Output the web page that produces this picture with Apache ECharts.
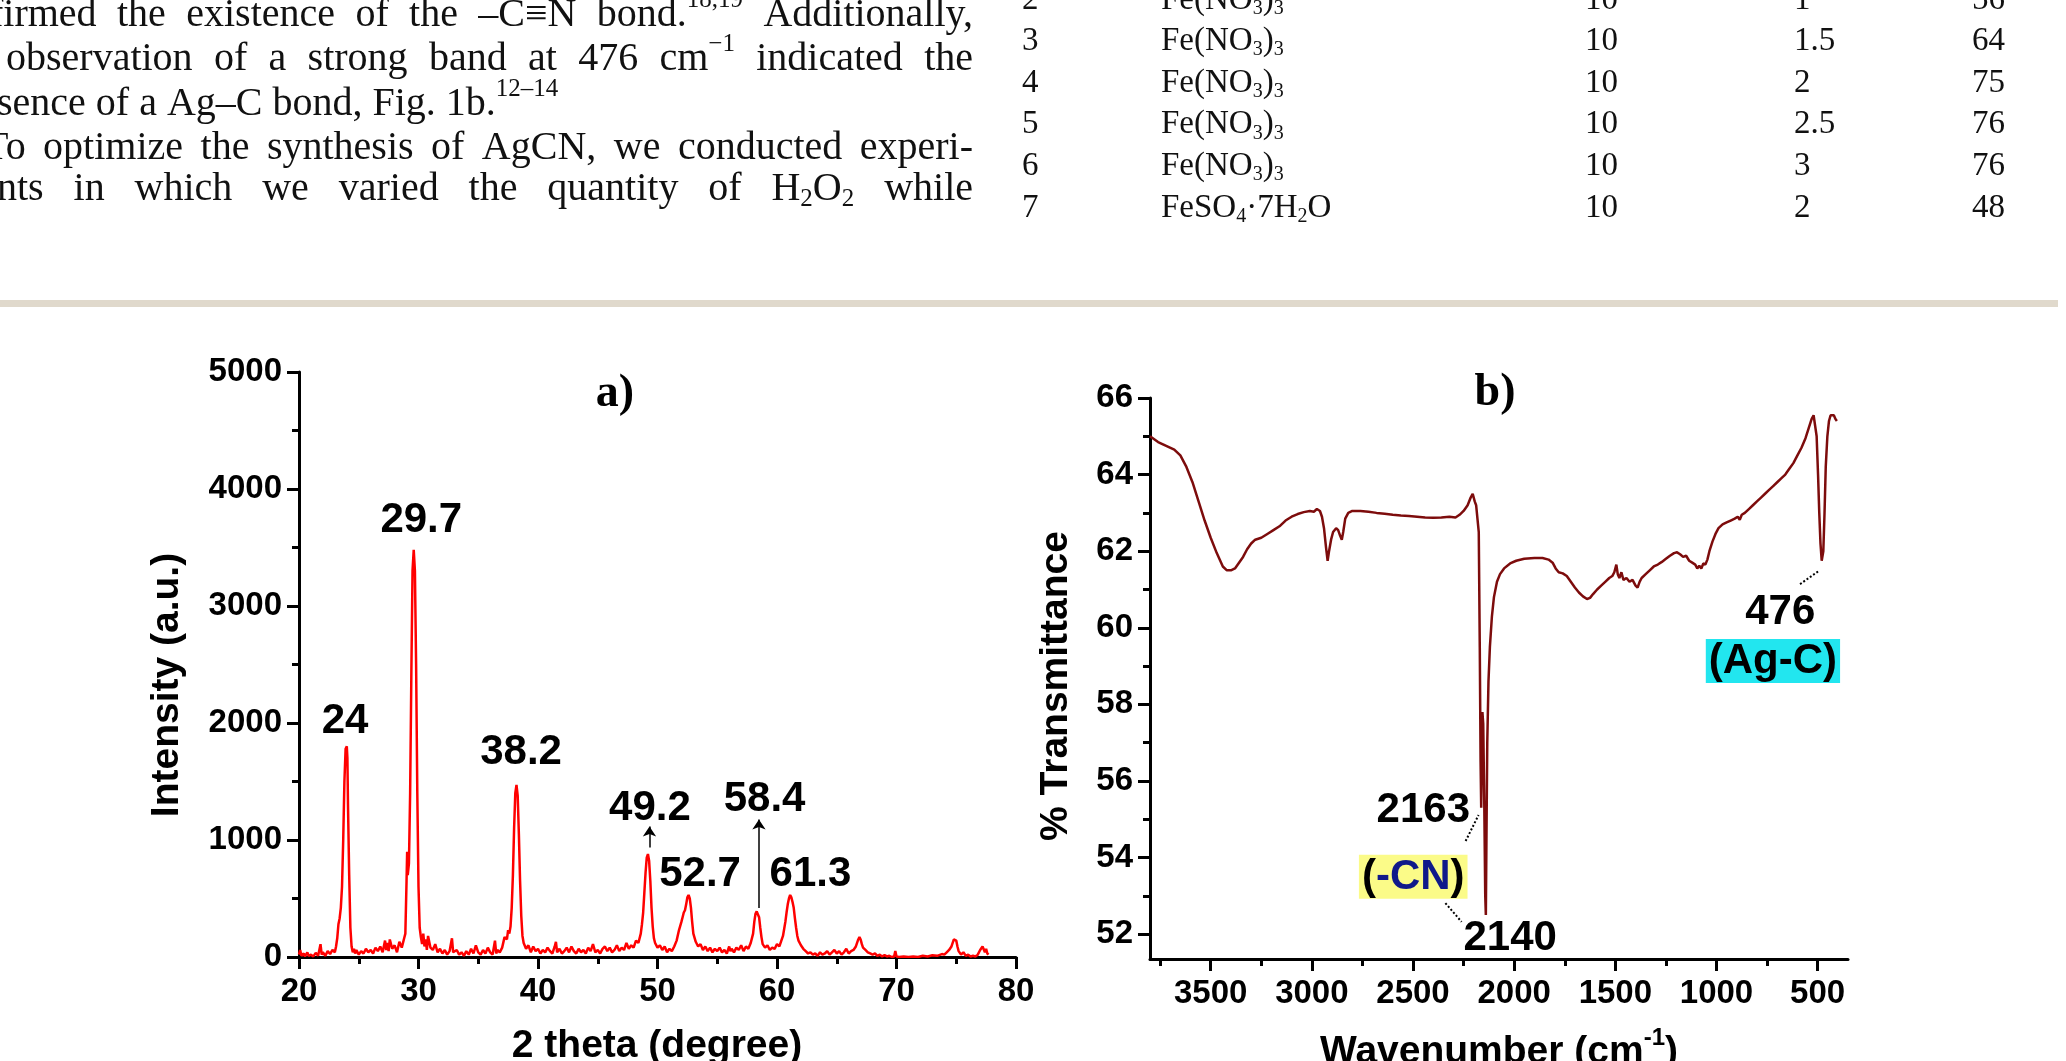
<!DOCTYPE html>
<html><head><meta charset="utf-8">
<script src="https://cdn.jsdelivr.net/npm/echarts@6/dist/echarts.min.js"></script>
<style>html,body{margin:0;padding:0;background:#fff;overflow:hidden}#c{width:2066px;height:1061px}</style>
</head><body><div id="c"></div>
<script>
// ---------- DATA ----------
const xrdPoints = [
[20.0,20],[20.1,60],[20.2,10],[20.3,0],[20.4,30],[20.5,5],[20.6,15],[20.7,40],[20.8,10],[20.9,0],[21.0,20],[21.2,5],[21.4,35],[21.6,10],[21.8,110],[21.9,20],[22.0,40],[22.2,10],[22.4,50],[22.6,25],[22.8,60],[23.0,40],[23.1,90],[23.2,160],[23.3,280],[23.4,330],[23.5,420],[23.6,600],[23.7,1000],[23.8,1500],[23.9,1780],[24.0,1800],[24.05,1700],[24.1,1300],[24.2,700],[24.3,250],[24.4,90],[24.5,40],[24.6,70],[24.7,30],[24.8,60],[25.0,20],[25.2,50],[25.4,30],[25.6,70],[25.8,40],[26.0,60],[26.2,30],[26.4,80],[26.6,50],[26.8,90],[27.0,40],[27.2,140],[27.3,60],[27.4,120],[27.5,50],[27.6,150],[27.8,70],[28.0,100],[28.2,40],[28.4,130],[28.6,80],[28.8,160],[28.9,200],[29.0,650],[29.05,900],[29.1,700],[29.2,800],[29.3,1400],[29.4,2400],[29.5,3300],[29.6,3480],[29.7,3300],[29.8,2500],[29.9,1400],[30.0,600],[30.1,250],[30.2,170],[30.3,110],[30.4,200],[30.5,90],[30.6,150],[30.7,60],[30.8,180],[31.0,80],[31.2,60],[31.4,110],[31.6,40],[31.8,70],[32.0,30],[32.2,60],[32.4,20],[32.6,50],[32.8,160],[32.9,40],[33.0,30],[33.2,60],[33.4,20],[33.6,40],[33.8,10],[34.0,50],[34.2,20],[34.4,70],[34.6,30],[34.8,100],[35.0,40],[35.2,20],[35.4,60],[35.6,30],[35.8,80],[36.0,40],[36.2,20],[36.4,140],[36.5,30],[36.6,60],[36.8,40],[37.0,80],[37.2,170],[37.4,150],[37.5,230],[37.6,200],[37.7,260],[37.8,420],[37.9,700],[38.0,1100],[38.1,1400],[38.2,1470],[38.3,1380],[38.4,1050],[38.5,650],[38.6,350],[38.7,180],[38.8,120],[39.0,70],[39.2,100],[39.4,40],[39.6,90],[39.8,50],[40.0,70],[40.2,30],[40.4,60],[40.6,40],[40.8,80],[41.0,50],[41.2,30],[41.4,90],[41.5,130],[41.6,40],[41.8,70],[42.0,30],[42.2,50],[42.4,80],[42.6,40],[42.8,90],[43.0,50],[43.2,30],[43.4,70],[43.6,40],[43.8,60],[44.0,30],[44.2,80],[44.4,50],[44.6,110],[44.8,40],[45.0,60],[45.2,30],[45.4,70],[45.6,90],[45.8,50],[46.0,80],[46.2,40],[46.4,60],[46.6,100],[46.8,50],[47.0,80],[47.2,60],[47.4,120],[47.6,70],[47.8,100],[48.0,80],[48.2,140],[48.4,120],[48.6,200],[48.7,280],[48.8,380],[48.9,550],[49.0,720],[49.1,850],[49.2,880],[49.3,820],[49.4,650],[49.5,420],[49.6,260],[49.7,160],[49.8,120],[50.0,80],[50.2,100],[50.4,60],[50.6,90],[50.8,40],[51.0,70],[51.2,50],[51.4,90],[51.6,140],[51.8,230],[52.0,300],[52.1,340],[52.2,380],[52.3,400],[52.4,450],[52.5,510],[52.6,530],[52.7,500],[52.8,420],[52.9,300],[53.0,200],[53.2,130],[53.4,90],[53.6,110],[53.8,60],[54.0,90],[54.2,50],[54.4,80],[54.6,40],[54.8,70],[55.0,50],[55.2,80],[55.4,40],[55.6,60],[55.8,30],[56.0,90],[56.1,50],[56.2,70],[56.4,40],[56.6,80],[56.8,60],[57.0,100],[57.2,50],[57.4,90],[57.6,70],[57.8,120],[58.0,200],[58.1,300],[58.2,370],[58.3,390],[58.4,380],[58.5,340],[58.6,250],[58.7,170],[58.8,110],[59.0,80],[59.2,100],[59.4,60],[59.6,80],[59.8,70],[60.0,110],[60.2,90],[60.4,150],[60.5,180],[60.6,240],[60.7,300],[60.8,380],[60.9,450],[61.0,500],[61.1,530],[61.2,510],[61.3,470],[61.4,420],[61.5,330],[61.6,250],[61.7,180],[61.8,140],[62.0,100],[62.2,70],[62.4,50],[62.6,30],[62.8,40],[63.0,20],[63.2,30],[63.4,10],[63.6,40],[63.8,20],[64.0,30],[64.2,50],[64.4,20],[64.6,40],[64.8,60],[65.0,30],[65.2,50],[65.4,20],[65.6,40],[65.8,70],[66.0,30],[66.2,50],[66.4,60],[66.6,90],[66.8,150],[66.9,170],[67.0,150],[67.1,110],[67.2,80],[67.4,60],[67.6,40],[67.8,30],[68.0,20],[68.2,30],[68.4,10],[68.6,20],[68.8,5],[69.0,15],[69.2,5],[69.4,10],[69.6,0],[69.8,5],[69.9,50],[70.0,5],[70.2,0],[70.6,5],[71.0,0],[71.4,5],[71.8,0],[72.2,10],[72.6,5],[73.0,15],[73.4,10],[73.8,25],[74.0,20],[74.2,40],[74.4,60],[74.6,90],[74.8,150],[74.9,160],[75.0,140],[75.1,90],[75.2,50],[75.4,20],[75.6,40],[75.8,10],[76.0,20],[76.2,5],[76.4,10],[76.6,5],[76.8,20],[77.0,60],[77.2,90],[77.3,80],[77.4,40],[77.5,70],[77.6,30],[77.7,20]
];
const ftirPoints = [
[3800,65.0],[3760,64.85],[3720,64.75],[3680,64.65],[3650,64.5],[3620,64.2],[3590,63.8],[3560,63.3],[3530,62.8],[3500,62.35],[3470,61.95],[3440,61.6],[3420,61.5],[3400,61.5],[3380,61.55],[3360,61.7],[3340,61.85],[3320,62.05],[3300,62.2],[3280,62.3],[3250,62.35],[3220,62.45],[3190,62.55],[3160,62.65],[3130,62.8],[3100,62.9],[3070,62.97],[3040,63.02],[3010,63.05],[2990,63.03],[2975,63.1],[2960,63.05],[2950,62.9],[2940,62.6],[2930,62.1],[2922,61.75],[2915,62.0],[2905,62.3],[2895,62.5],[2880,62.6],[2870,62.55],[2860,62.4],[2852,62.3],[2845,62.5],[2835,62.85],[2820,63.0],[2800,63.05],[2760,63.05],[2720,63.03],[2680,63.0],[2640,62.98],[2600,62.95],[2560,62.93],[2520,62.92],[2480,62.9],[2440,62.88],[2400,62.87],[2360,62.88],[2320,62.9],[2290,62.88],[2270,62.95],[2250,63.05],[2230,63.2],[2215,63.4],[2205,63.5],[2195,63.3],[2188,63.2],[2180,63.15],[2175,62.5],[2170,59.5],[2166,56.5],[2163,55.3],[2160,56.5],[2157,57.8],[2153,57.5],[2148,55.5],[2143,53.0],[2140,52.5],[2137,54.5],[2133,57.0],[2127,58.6],[2120,59.5],[2110,60.3],[2100,60.8],[2085,61.2],[2070,61.4],[2050,61.55],[2020,61.68],[1990,61.75],[1950,61.8],[1900,61.82],[1860,61.82],[1830,61.78],[1810,61.7],[1795,61.55],[1780,61.45],[1760,61.42],[1740,61.35],[1720,61.2],[1700,61.05],[1680,60.92],[1660,60.82],[1640,60.75],[1625,60.78],[1610,60.88],[1590,61.0],[1570,61.1],[1550,61.2],[1530,61.3],[1515,61.35],[1505,61.45],[1495,61.65],[1488,61.4],[1480,61.3],[1470,61.45],[1460,61.25],[1445,61.3],[1430,61.2],[1415,61.25],[1400,61.1],[1390,61.05],[1380,61.2],[1370,61.3],[1350,61.4],[1330,61.5],[1310,61.6],[1290,61.65],[1270,61.72],[1250,61.8],[1230,61.88],[1210,61.95],[1195,61.97],[1180,61.92],[1165,61.85],[1150,61.88],[1135,61.75],[1120,61.7],[1105,61.65],[1095,61.55],[1085,61.62],[1075,61.55],[1065,61.68],[1055,61.65],[1045,61.78],[1035,62.0],[1020,62.25],[1005,62.45],[990,62.6],[970,62.7],[950,62.75],[930,62.8],[910,62.85],[895,62.9],[885,62.82],[875,62.95],[860,63.0],[840,63.1],[820,63.2],[800,63.3],[780,63.4],[760,63.5],[740,63.6],[720,63.7],[700,63.8],[680,63.9],[660,64.0],[640,64.15],[620,64.3],[600,64.5],[580,64.7],[560,64.95],[545,65.2],[530,65.45],[520,65.55],[512,65.5],[505,65.0],[498,64.0],[492,63.0],[486,62.2],[480,61.75],[476,61.7],[472,62.0],[466,63.0],[460,64.2],[452,65.0],[444,65.4],[436,65.55],[428,65.5],[420,65.55],[412,65.45],[405,65.4]
];
const ftirXMajor = [500,1000,1500,2000,2500,3000,3500];
const ftirXMinor = [750,1250,1750,2250,2750,3250,3750];
const ftirYMajor = [52,54,56,58,60,62,64,66];
const ftirYMinor = [53,55,57,59,61,63,65];
// peak labels: text, x, y (data coords of label centre)
const xrdPeakLabels = [['24',23.85,2012],['29.7',30.23,3735],['38.2',38.58,1752],['49.2',49.37,1274],['52.7',53.56,709],['58.4',58.96,1350],['61.3',62.80,709]];
// arrows: x, from, to
const xrdArrows = [[49.33,936,1115],[58.49,419,1175]];
const ftirLabels = [['476',685,60.39],['2163',2449,55.22],['2140',2020,51.90]];
const ftirBoxLabels = [['(Ag-C)',721,59.13],['(-CN)',2499,53.50]];
const ftirLeaders = [[[587,61.14],[490,61.5]],[[2240,54.43],[2176,55.11]],[[2340,52.81],[2260,52.32]]];
const bodyLines = [
  'firmed the existence of the –C≡N bond.^{18,19} Additionally,',
  'observation of a strong band at 476 cm^{−1} indicated the',
  'sence of a Ag–C bond, Fig. 1b.^{12–14}',
  'To optimize the synthesis of AgCN, we conducted experi-',
  'nts in which we varied the quantity of H_{2}O_{2} while'
];
const tableEntry = ['2','3','4','5','6','7'];
const tableCatalyst = ['Fe(NO_{3})_{3}','Fe(NO_{3})_{3}','Fe(NO_{3})_{3}','Fe(NO_{3})_{3}','Fe(NO_{3})_{3}','FeSO_{4}·7H_{2}O'];
const tableLoading = ['10','10','10','10','10','10'];
const tableH2O2 = ['1','1.5','2','2.5','3','2'];
const tableYield = ['56','64','75','76','76','48'];

// ---------- LAYOUT HELPERS ----------
const mctx = document.createElement('canvas').getContext('2d');
function parseMarkup(s){const out=[];const re=/\^\{([^}]*)\}|_\{([^}]*)\}|([^\^_]+)/g;let m;while((m=re.exec(s))){if(m[1]!==undefined)out.push({t:m[1],k:'sup'});else if(m[2]!==undefined)out.push({t:m[2],k:'sub'});else out.push({t:m[3],k:'n'});}return out;}
function fsOf(st,k){return k==='n'?st.size:Math.round(st.size*0.62);}
function fontOf(st,k){return (st.weight||'normal')+' '+fsOf(st,k)+'px '+st.family;}
function segW(s,st){mctx.font=fontOf(st,s.k);return mctx.measureText(s.t).width;}
function emitSeg(s,x,y,st,els){
  const dy=s.k==='sup'?-st.size*0.36:(s.k==='sub'?st.size*0.26:0);
  els.push({type:'text',x:x,y:y+dy,silent:true,z:100,style:{text:s.t,fontSize:fsOf(st,s.k),fontFamily:st.family,fontWeight:st.weight||'normal',fill:st.color||'#000',align:'left',verticalAlign:'middle'}});
}
function wordsLine(str,left,right,yc,st,justify,els){
  const words=str.split(' ').filter(w=>w.length);
  const segs=words.map(parseMarkup);
  const ws=segs.map(ss=>ss.reduce((a,s)=>a+segW(s,st),0));
  const tot=ws.reduce((a,b)=>a+b,0);
  mctx.font=fontOf(st,'n');const sp=mctx.measureText(' ').width;
  const gap=(justify&&words.length>1)?(right-left-tot)/(words.length-1):sp;
  let x=left;
  segs.forEach((ss,i)=>{let xx=x;ss.forEach(s=>{emitSeg(s,xx,yc,st,els);xx+=segW(s,st);});x+=ws[i]+gap;});
}
function centeredLine(str,cx,yc,st,els){
  const segs=parseMarkup(str);const w=segs.reduce((a,s)=>a+segW(s,st),0);
  let x=cx-w/2;segs.forEach(s=>{emitSeg(s,x,yc,st,els);x+=segW(s,st);});
}

const els=[];
const serif="'Liberation Serif','Times New Roman',serif";
const sans="'Liberation Sans',Arial,sans-serif";
const bodySt={size:40,family:serif,color:'#111'};
const lineLeft=[-10,6,-3,-16,-3];
const lineY=[15,59,104,148,189];
const lineJust=[true,true,false,true,true];
bodyLines.forEach((l,i)=>wordsLine(l,lineLeft[i],973,lineY[i],bodySt,lineJust[i],els));
const tabSt={size:33,family:serif,color:'#111'};
const rowY=[0,41.6,83.2,124.8,166.4,208];
const colX=[1022,1161,1585,1794,1972];
[tableEntry,tableCatalyst,tableLoading,tableH2O2,tableYield].forEach((col,ci)=>{
  col.forEach((v,ri)=>wordsLine(v,colX[ci],colX[ci]+400,rowY[ri],tabSt,false,els));
});
els.push({type:'rect',silent:true,shape:{x:0,y:300,width:2058,height:7},style:{fill:'#e0d9cc'}});
const titleSt={size:39,family:sans,weight:'bold',color:'#000'};
centeredLine('2 theta (degree)',657,1046,titleSt,els);
centeredLine('Wavenumber (cm^{-1})',1499,1052,titleSt,els);
els.push({type:'text',x:167,y:685,rotation:Math.PI/2,silent:true,style:{text:'Intensity (a.u.)',fontSize:39,fontWeight:'bold',fontFamily:sans,fill:'#000',align:'center',verticalAlign:'middle'}});
els.push({type:'text',x:1056,y:686,rotation:Math.PI/2,silent:true,style:{text:'% Transmittance',fontSize:39,fontWeight:'bold',fontFamily:sans,fill:'#000',align:'center',verticalAlign:'middle'}});
els.push({type:'text',x:615,y:394,silent:true,style:{text:'a)',fontSize:46,fontWeight:'bold',fontFamily:serif,fill:'#000',align:'center',verticalAlign:'middle'}});
els.push({type:'text',x:1495,y:393,silent:true,style:{text:'b)',fontSize:46,fontWeight:'bold',fontFamily:serif,fill:'#000',align:'center',verticalAlign:'middle'}});

// ---------- CHART ----------
const plain=v=>String(v);
const tickLab={color:'#000',fontSize:33,fontWeight:'bold',fontFamily:sans,formatter:plain};
const axLine={show:true,onZero:false,lineStyle:{color:'#000',width:3}};
const tickSt={show:true,length:12,lineStyle:{color:'#000',width:3}};
const minorSt={show:true,splitNumber:2,length:7,lineStyle:{color:'#000',width:3}};
const peakLabelStyle={show:true,position:'inside',color:'#000',fontSize:42,fontWeight:'bold',fontFamily:sans};

const option={
  animation:false,
  backgroundColor:'#fff',
  grid:[{left:299,top:372,width:717,height:585},{left:1150,top:398,width:698,height:561}],
  xAxis:[
    {gridIndex:0,type:'value',min:20,max:80,interval:10,axisLine:axLine,axisTick:tickSt,minorTick:minorSt,splitLine:{show:false},axisLabel:Object.assign({margin:18},tickLab)},
    {gridIndex:1,type:'value',min:350,max:3800,inverse:true,axisLine:axLine,axisTick:Object.assign({customValues:ftirXMajor},tickSt),splitLine:{show:false},axisLabel:Object.assign({margin:18,customValues:ftirXMajor},tickLab)},
    {gridIndex:1,type:'value',min:350,max:3800,inverse:true,position:'bottom',axisLine:{show:false},axisTick:{show:true,length:7,customValues:ftirXMinor,lineStyle:{color:'#000',width:3}},splitLine:{show:false},axisLabel:{show:false}}
  ],
  yAxis:[
    {gridIndex:0,type:'value',min:0,max:5000,interval:1000,axisLine:axLine,axisTick:tickSt,minorTick:minorSt,splitLine:{show:false},axisLabel:Object.assign({margin:17},tickLab)},
    {gridIndex:1,type:'value',min:51.35,max:66,axisLine:axLine,axisTick:Object.assign({customValues:ftirYMajor},tickSt),splitLine:{show:false},axisLabel:Object.assign({margin:17,customValues:ftirYMajor},tickLab)},
    {gridIndex:1,type:'value',min:51.35,max:66,position:'left',axisLine:{show:false},axisTick:{show:true,length:7,customValues:ftirYMinor,lineStyle:{color:'#000',width:3}},splitLine:{show:false},axisLabel:{show:false}}
  ],
  series:[
    {type:'line',xAxisIndex:0,yAxisIndex:0,data:xrdPoints,showSymbol:false,symbol:'none',lineStyle:{color:'#ff0000',width:2.5},itemStyle:{color:'#ff0000'},z:5,
     markPoint:{symbol:'rect',symbolSize:1,itemStyle:{color:'rgba(0,0,0,0)'},label:peakLabelStyle,
       data:xrdPeakLabels.map(p=>({coord:[p[1],p[2]],value:p[0],label:{formatter:p[0]}}))},
     markLine:{silent:true,symbol:['none','arrow'],symbolSize:10,label:{show:false},lineStyle:{color:'#000',width:1.5,type:'solid'},
       data:xrdArrows.map(a=>[{coord:[a[0],a[1]]},{coord:[a[0],a[2]]}])}
    },
    {type:'line',xAxisIndex:1,yAxisIndex:1,data:ftirPoints,showSymbol:false,symbol:'none',lineStyle:{color:'#7d0c0c',width:2.5},itemStyle:{color:'#7d0c0c'},z:5,
     markPoint:{symbol:'rect',symbolSize:1,itemStyle:{color:'rgba(0,0,0,0)'},
       data:ftirLabels.map(p=>({coord:[p[1],p[2]],label:Object.assign({},peakLabelStyle,{formatter:p[0]})}))
         .concat([
           {coord:[ftirBoxLabels[0][1],ftirBoxLabels[0][2]],label:Object.assign({},peakLabelStyle,{formatter:ftirBoxLabels[0][0],backgroundColor:'#22e6ef',padding:[2,3,0,3]})},
           {coord:[ftirBoxLabels[1][1],ftirBoxLabels[1][2]],label:Object.assign({},peakLabelStyle,{formatter:'{p|(}{c|-CN}{p|)}',backgroundColor:'#fbfb88',padding:[2,3,0,3],
             rich:{p:{color:'#000',fontSize:42,fontWeight:'bold',fontFamily:sans},c:{color:'#10198a',fontSize:42,fontWeight:'bold',fontFamily:sans}}})}
         ])},
     markLine:{silent:true,symbol:['none','none'],label:{show:false},lineStyle:{color:'#000',width:2,type:'dotted'},
       data:ftirLeaders.map(l=>[{coord:l[0]},{coord:l[1]}])}
    }
  ],
  graphic:{elements:els}
};
const chart=echarts.init(document.getElementById('c'));
chart.setOption(option);
</script></body></html>
